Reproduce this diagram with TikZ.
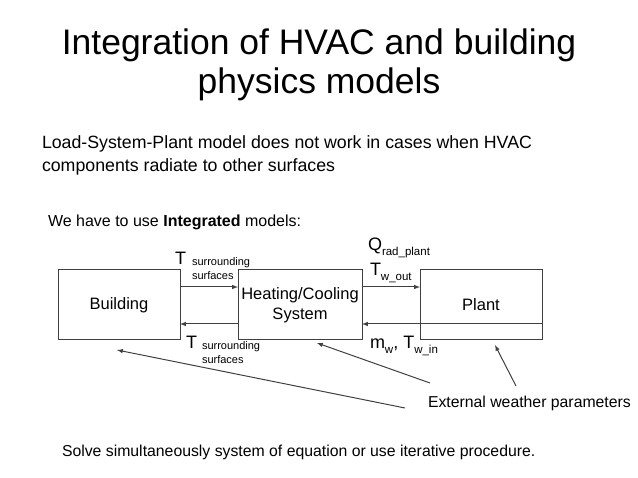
\documentclass[tikz,border=0pt]{standalone}
\usepackage{fontspec}
\setmainfont{Liberation Sans}
\usetikzlibrary{positioning}
\tikzstyle{every node}=[inner sep=0pt,outer sep=0pt]
\tikzstyle{block}=[draw=black!75,line width=1pt,minimum height=70pt,align=center,font=\fontsize{16.5}{19.5}\selectfont]
\tikzstyle{flow}=[draw=black!75,line width=1pt,-latex]
\tikzstyle{big}=[font=\fontsize{18}{21}\selectfont]
\tikzstyle{small}=[font=\fontsize{11}{14}\selectfont,align=left]
\newcommand{\sub}[1]{\raisebox{-0.3em}{\fontsize{11.5}{13}\selectfont #1}}

\begin{document}
\begin{tikzpicture}[x=1pt,y=-1pt]
  \useasboundingbox (0,0) rectangle (638,478);
  \node[align=center,font=\fontsize{35.5}{39}\selectfont] (title) at (319,65) {Integration of HVAC and building\\physics models};
  \node[anchor=west,align=left,font=\fontsize{17.75}{23}\selectfont] (intro) at (42,155) {Load-System-Plant model does not work in cases when HVAC\\components radiate to other surfaces};
  \node[anchor=west,font=\fontsize{16}{19}\selectfont] (we) at (48,222) {We have to use \textbf{Integrated} models:};

  \node[block,minimum width=122pt] (bld) at (119,305) {Building};
  \node[block,minimum width=124pt] (hvac) at (300,305) {Heating/Cooling\\System};
  \node[block,minimum width=122pt] (plant) at (481,305) {Plant};

  \draw[flow] ([yshift=18pt]bld.east) -- ([yshift=18pt]hvac.west);
  \draw[flow] ([yshift=-19pt]hvac.west) -- ([yshift=-19pt]bld.east);
  \draw[flow] ([yshift=18pt]hvac.east) -- ([yshift=18pt]plant.west);
  \draw[flow] ([yshift=-19pt]plant.east) -- ([yshift=-19pt]hvac.east);

  % temperatures of the surfaces
  \node[big,anchor=west] (tup) at (175,258) {T};
  \node[small,anchor=north west] (tupsub) at (192,258) {surrounding\\surfaces};
  \node[big,anchor=west] (tdown) at (186,342) {T};
  \node[small,anchor=north west] (tdownsub) at (202,342) {surrounding\\surfaces};

  % plant side
  \node[big,anchor=west] (qrad) at (368,248) {Q\sub{rad\_plant}};
  \node[big,anchor=west] (twout) at (370,273) {T\sub{w\_out}};
  \node[big,anchor=west] (mw) at (370,346) {m\sub{w}, T\sub{w\_in}};

  % weather
  \node[anchor=west,font=\fontsize{15.8}{18}\selectfont] (weather) at (428,403) {External weather parameters};
  \coordinate (w1) at (405,408);
  \coordinate (w2) at (430,383);
  \coordinate (w3) at (516,386);
  \draw[flow] (w1) -- ([xshift=-2pt,yshift=-10pt]bld.south);
  \draw[flow] (w2) -- ([xshift=17pt,yshift=-3pt]hvac.south);
  \draw[flow] (w3) -- ([xshift=14pt,yshift=-5pt]plant.south);

  \node[anchor=west,font=\fontsize{15.8}{18}\selectfont] (solve) at (62,452) {Solve simultaneously system of equation or use iterative procedure.};
\end{tikzpicture}
\end{document}
